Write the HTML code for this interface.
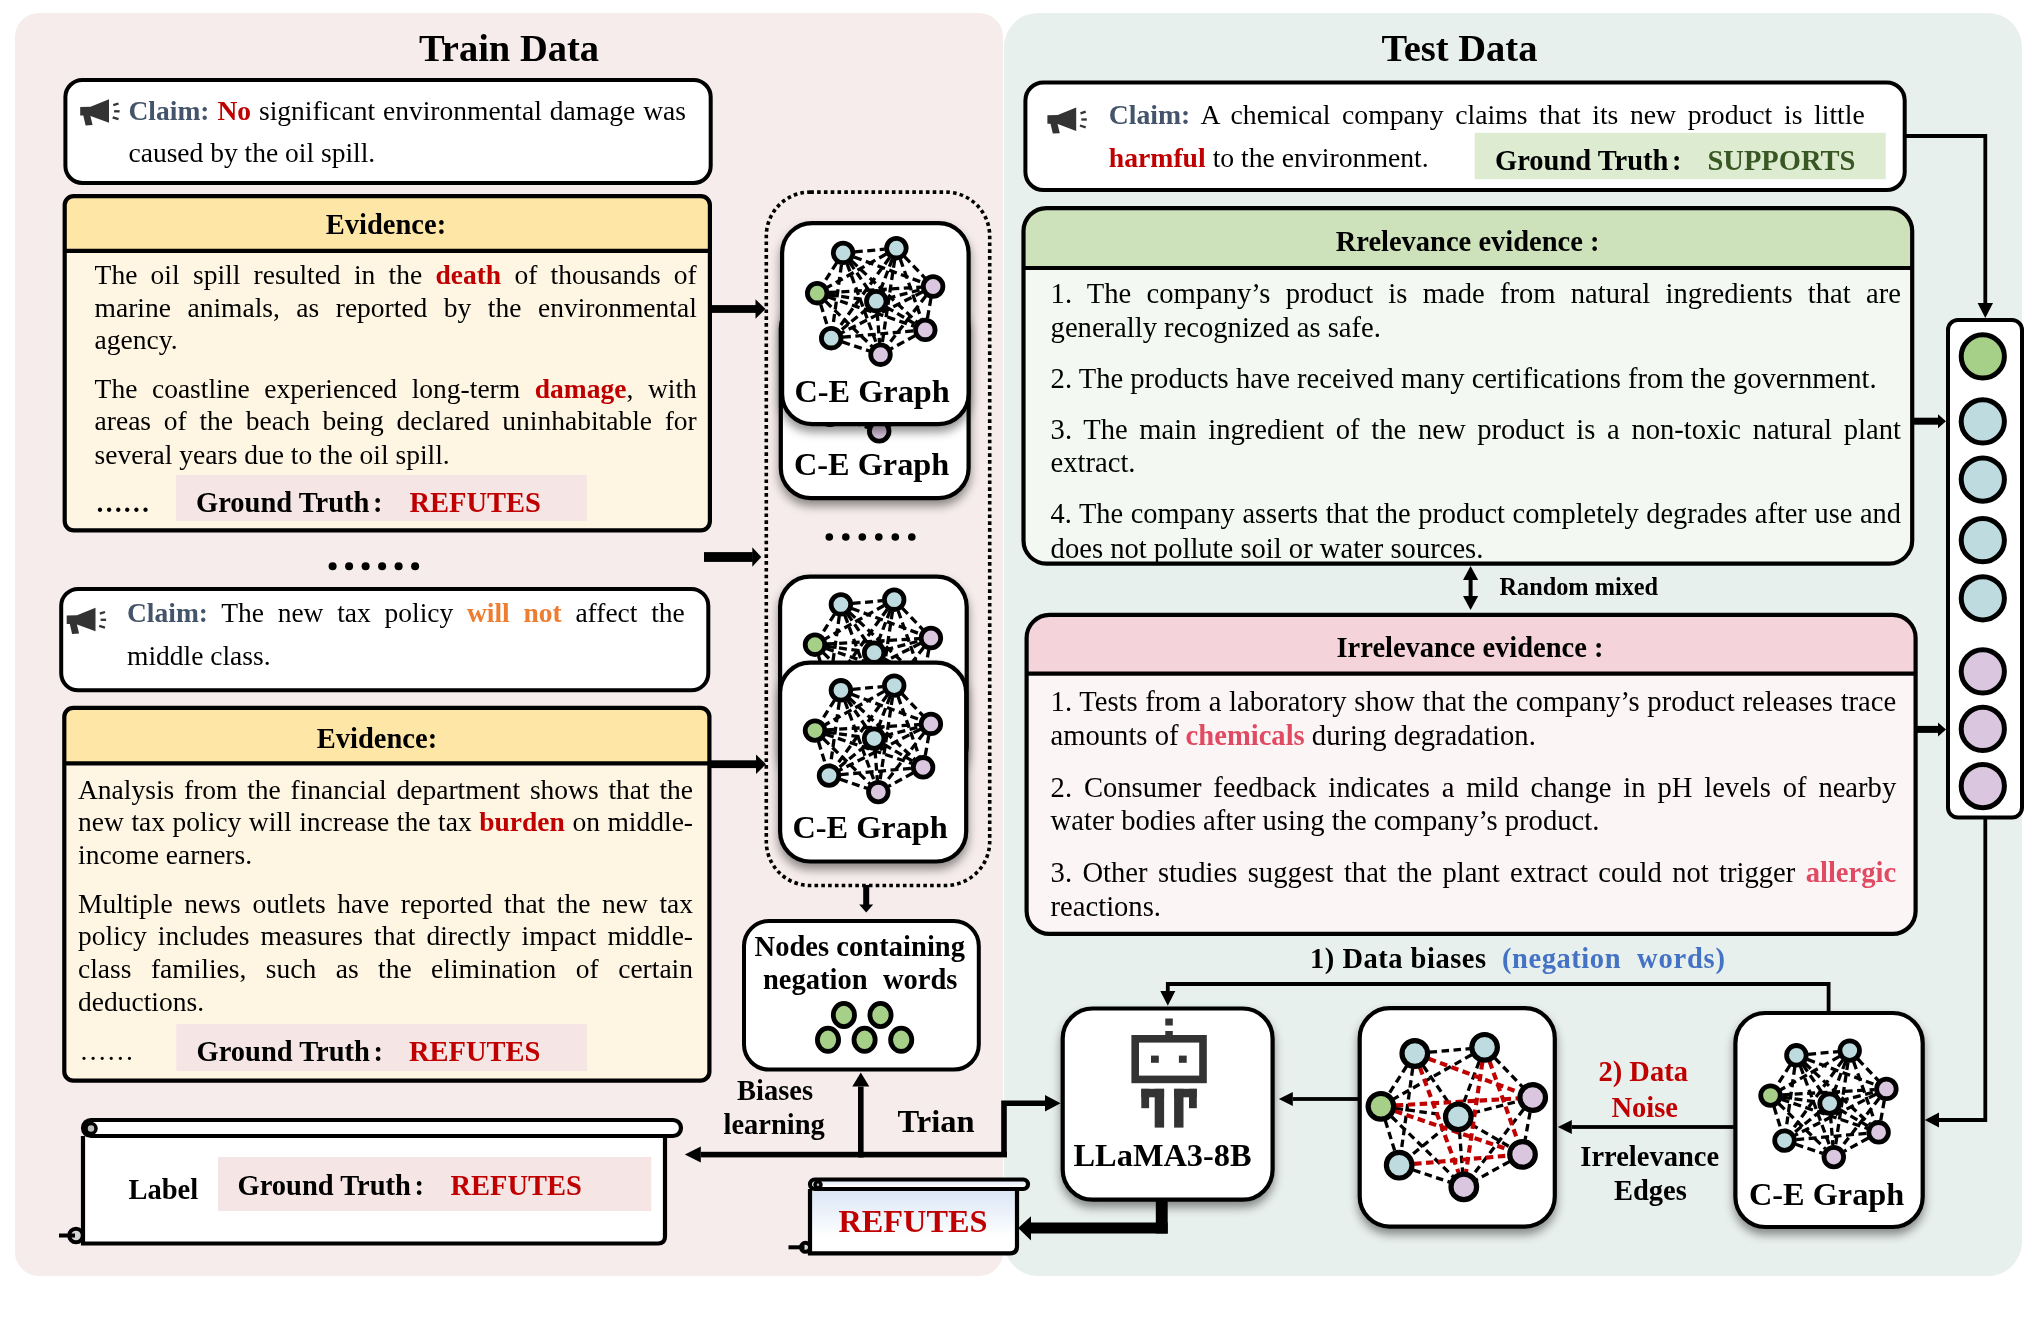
<!DOCTYPE html>
<html><head><meta charset="utf-8"><title>Train/Test Data</title>
<style>
html,body{margin:0;padding:0;background:#fff;}
#root{position:relative;width:2040px;height:1320px;overflow:hidden;background:#fff;font-family:"Liberation Serif",serif;color:#000;}
#root svg{position:absolute;left:0;top:0;will-change:transform;}
#root svg text{font-family:"Liberation Serif",serif;}
.ln{position:absolute;white-space:nowrap;}
#txt{position:absolute;left:0;top:0;width:2040px;height:1320px;will-change:transform;}
.ln.j{text-align:justify;text-align-last:justify;}
</style></head><body><div id="root">
<div style="position:absolute;left:15px;top:13px;width:988px;height:1263px;border-radius:24px;background:#f5eceb"></div><div style="position:absolute;left:1004px;top:13px;width:1018px;height:1263px;border-radius:34px;background:#e8f0ee"></div>
<svg width="2040" height="1320" viewBox="0 0 2040 1320"><defs>
<filter id="sh" x="-20%" y="-20%" width="140%" height="140%">
<feDropShadow dx="0" dy="6" stdDeviation="5" flood-color="#000" flood-opacity="0.42"/>
</filter>
<linearGradient id="bg" x1="0" y1="0" x2="0" y2="1">
<stop offset="0" stop-color="#d9e5f5"/><stop offset="0.75" stop-color="#ffffff"/>
</linearGradient>
</defs>
<text x="509" y="61.4" font-size="38.5" font-weight="bold" fill="#000" text-anchor="middle">Train Data</text>
<text x="1459.5" y="60.7" font-size="38.5" font-weight="bold" fill="#000" text-anchor="middle">Test Data</text>
<rect x="65.40" y="80.00" width="645.30" height="103.00" rx="17" fill="#fff" stroke="#000" stroke-width="4"/>
<g transform="translate(75,92)" fill="#333333"><path d="M5.2,15 L15.5,14.7 L34,7.2 L34,30.8 L15.5,23.9 L15.3,23.6 L17.6,33.1 L10.6,33.4 L8.3,23.6 L5.2,23.6 Z"/><g stroke="#333333" stroke-width="2.3" stroke-linecap="butt" fill="none"><line x1="38.3" y1="13.2" x2="43.5" y2="11.5"/><line x1="39.1" y1="19.3" x2="44.6" y2="19.3"/><line x1="37.7" y1="25.3" x2="43.5" y2="27.1"/></g></g>
<rect x="64.70" y="196.10" width="645.20" height="334.20" rx="9" fill="#fef5e2"/>
<path d="M64.70,250.80 L64.70,205.10 Q64.70,196.10 73.70,196.10 L700.90,196.10 Q709.90,196.10 709.90,205.10 L709.90,250.80 Z" fill="#fde6a6"/>
<line x1="64.70" y1="250.80" x2="709.90" y2="250.80" stroke="#000" stroke-width="4.2"/>
<rect x="64.70" y="196.10" width="645.20" height="334.20" rx="9" fill="none" stroke="#000" stroke-width="4.2"/>
<text x="386" y="233.7" font-size="28.5" font-weight="bold" fill="#000" text-anchor="middle">Evidence:</text>
<rect x="175.9" y="475" width="411" height="46" fill="#f5e6e5"/>
<text x="95.5" y="511.8" font-size="27.2" font-weight="bold" fill="#000">……</text>
<text x="196" y="511.8" font-size="28.5" font-weight="bold" fill="#000">Ground Truth</text>
<text x="372.9" y="511.8" font-size="28.5" font-weight="bold" fill="#000">:</text>
<text x="409.5" y="511.8" font-size="28.5" font-weight="bold" fill="#c00000">REFUTES</text>
<circle cx="332.6" cy="566.2" r="4"/>
<circle cx="349.1" cy="566.2" r="4"/>
<circle cx="365.6" cy="566.2" r="4"/>
<circle cx="382.1" cy="566.2" r="4"/>
<circle cx="398.6" cy="566.2" r="4"/>
<circle cx="415.1" cy="566.2" r="4"/>
<rect x="61.20" y="588.90" width="647.10" height="101.40" rx="17" fill="#fff" stroke="#000" stroke-width="4"/>
<g transform="translate(61.5,600.5)" fill="#333333"><path d="M5.2,15 L15.5,14.7 L34,7.2 L34,30.8 L15.5,23.9 L15.3,23.6 L17.6,33.1 L10.6,33.4 L8.3,23.6 L5.2,23.6 Z"/><g stroke="#333333" stroke-width="2.3" stroke-linecap="butt" fill="none"><line x1="38.3" y1="13.2" x2="43.5" y2="11.5"/><line x1="39.1" y1="19.3" x2="44.6" y2="19.3"/><line x1="37.7" y1="25.3" x2="43.5" y2="27.1"/></g></g>
<rect x="64.30" y="707.80" width="645.10" height="372.90" rx="9" fill="#fef5e2"/>
<path d="M64.30,763.30 L64.30,716.80 Q64.30,707.80 73.30,707.80 L700.40,707.80 Q709.40,707.80 709.40,716.80 L709.40,763.30 Z" fill="#fde6a6"/>
<line x1="64.30" y1="763.30" x2="709.40" y2="763.30" stroke="#000" stroke-width="4.2"/>
<rect x="64.30" y="707.80" width="645.10" height="372.90" rx="9" fill="none" stroke="#000" stroke-width="4.2"/>
<text x="377" y="747.6" font-size="28.5" font-weight="bold" fill="#000" text-anchor="middle">Evidence:</text>
<rect x="176.3" y="1024" width="410.7" height="47" fill="#f5e6e5"/>
<text x="79.5" y="1060" font-size="27.2" fill="#000">……</text>
<text x="196.5" y="1061.3" font-size="28.5" font-weight="bold" fill="#000">Ground Truth</text>
<text x="373.4" y="1061.3" font-size="28.5" font-weight="bold" fill="#000">:</text>
<text x="409" y="1061.3" font-size="28.5" font-weight="bold" fill="#c00000">REFUTES</text>
<rect x="766.3" y="192.1" width="223.4" height="693.4" rx="44" fill="none" stroke="#000" stroke-width="3.6" stroke-dasharray="3.6 3.2"/>
<rect x="780.80" y="298.60" width="187.80" height="199.50" rx="30" fill="#fff" stroke="#000" stroke-width="4.2" filter="url(#sh)"/>
<g stroke="#000" stroke-width="3.3" stroke-dasharray="8 4.5" fill="none"><line x1="853.5" y1="328.5" x2="883.4" y2="325.8"/><line x1="835.5" y1="339.3" x2="822.2" y2="360.0"/><line x1="848.4" y1="339.1" x2="868.4" y2="368.2"/><line x1="852.8" y1="333.6" x2="920.8" y2="359.0"/><line x1="840.2" y1="341.1" x2="831.5" y2="403.2"/><line x1="850.3" y1="337.5" x2="915.5" y2="398.5"/><line x1="845.8" y1="340.5" x2="875.2" y2="420.3"/><line x1="884.9" y1="330.6" x2="826.1" y2="364.0"/><line x1="891.0" y1="335.7" x2="879.1" y2="366.9"/><line x1="903.2" y1="333.2" x2="923.7" y2="354.7"/><line x1="888.2" y1="334.3" x2="836.8" y2="405.3"/><line x1="899.0" y1="335.8" x2="920.1" y2="395.5"/><line x1="893.4" y1="336.4" x2="880.9" y2="419.7"/><line x1="827.5" y1="371.4" x2="863.4" y2="376.2"/><line x1="827.6" y1="369.1" x2="920.1" y2="363.8"/><line x1="819.4" y1="381.0" x2="826.4" y2="403.6"/><line x1="827.0" y1="373.6" x2="912.9" y2="402.7"/><line x1="824.3" y1="378.0" x2="870.8" y2="423.1"/><line x1="886.3" y1="374.9" x2="920.5" y2="366.0"/><line x1="866.0" y1="385.2" x2="838.9" y2="407.4"/><line x1="885.1" y1="383.7" x2="913.9" y2="400.6"/><line x1="875.9" y1="389.5" x2="878.3" y2="419.6"/><line x1="921.4" y1="368.4" x2="840.3" y2="409.5"/><line x1="929.7" y1="374.6" x2="926.1" y2="395.0"/><line x1="924.7" y1="372.4" x2="886.3" y2="422.0"/><line x1="841.6" y1="413.8" x2="912.3" y2="407.5"/><line x1="841.0" y1="418.5" x2="868.1" y2="427.6"/><line x1="913.8" y1="412.2" x2="889.4" y2="425.6"/></g><circle cx="841.8" cy="329.5" r="9.8" fill="#bedbdf" stroke="#000" stroke-width="4.8"/><circle cx="895.1" cy="324.8" r="9.8" fill="#bedbdf" stroke="#000" stroke-width="4.8"/><circle cx="815.9" cy="369.8" r="9.8" fill="#a6cf88" stroke="#000" stroke-width="4.8"/><circle cx="875.0" cy="377.8" r="9.8" fill="#bedbdf" stroke="#000" stroke-width="4.8"/><circle cx="931.8" cy="363.1" r="9.8" fill="#dac6df" stroke="#000" stroke-width="4.8"/><circle cx="829.9" cy="414.8" r="9.8" fill="#bedbdf" stroke="#000" stroke-width="4.8"/><circle cx="924.0" cy="406.5" r="9.8" fill="#dac6df" stroke="#000" stroke-width="4.8"/><circle cx="879.2" cy="431.3" r="9.8" fill="#dac6df" stroke="#000" stroke-width="4.8"/>
<text x="794" y="475.3" font-size="32.3" font-weight="bold" fill="#000">C-E Graph</text>
<rect x="782.10" y="223.10" width="186.50" height="201.00" rx="30" fill="#fff" stroke="#000" stroke-width="4.2" filter="url(#sh)"/>
<g stroke="#000" stroke-width="3.3" stroke-dasharray="8 4.5" fill="none"><line x1="854.8" y1="251.9" x2="884.7" y2="249.2"/><line x1="836.8" y1="262.7" x2="823.5" y2="283.4"/><line x1="849.7" y1="262.5" x2="869.7" y2="291.6"/><line x1="854.1" y1="257.0" x2="922.1" y2="282.4"/><line x1="841.5" y1="264.5" x2="832.8" y2="326.6"/><line x1="851.6" y1="260.9" x2="916.8" y2="321.9"/><line x1="847.1" y1="263.9" x2="876.5" y2="343.7"/><line x1="886.2" y1="254.0" x2="827.4" y2="287.4"/><line x1="892.3" y1="259.1" x2="880.4" y2="290.3"/><line x1="904.5" y1="256.6" x2="925.0" y2="278.1"/><line x1="889.5" y1="257.7" x2="838.1" y2="328.7"/><line x1="900.3" y1="259.2" x2="921.4" y2="318.9"/><line x1="894.7" y1="259.8" x2="882.2" y2="343.1"/><line x1="828.8" y1="294.8" x2="864.7" y2="299.6"/><line x1="828.9" y1="292.5" x2="921.4" y2="287.2"/><line x1="820.7" y1="304.4" x2="827.7" y2="327.0"/><line x1="828.3" y1="297.0" x2="914.2" y2="326.1"/><line x1="825.6" y1="301.4" x2="872.1" y2="346.5"/><line x1="887.6" y1="298.3" x2="921.8" y2="289.4"/><line x1="867.3" y1="308.6" x2="840.2" y2="330.8"/><line x1="886.4" y1="307.1" x2="915.2" y2="324.0"/><line x1="877.2" y1="312.9" x2="879.6" y2="343.0"/><line x1="922.7" y1="291.8" x2="841.6" y2="332.9"/><line x1="931.0" y1="298.0" x2="927.4" y2="318.4"/><line x1="926.0" y1="295.8" x2="887.6" y2="345.4"/><line x1="842.9" y1="337.2" x2="913.6" y2="330.9"/><line x1="842.3" y1="341.9" x2="869.4" y2="351.0"/><line x1="915.1" y1="335.6" x2="890.7" y2="349.0"/></g><circle cx="843.1" cy="252.9" r="9.8" fill="#bedbdf" stroke="#000" stroke-width="4.8"/><circle cx="896.4" cy="248.2" r="9.8" fill="#bedbdf" stroke="#000" stroke-width="4.8"/><circle cx="817.2" cy="293.2" r="9.8" fill="#a6cf88" stroke="#000" stroke-width="4.8"/><circle cx="876.3" cy="301.2" r="9.8" fill="#bedbdf" stroke="#000" stroke-width="4.8"/><circle cx="933.1" cy="286.5" r="9.8" fill="#dac6df" stroke="#000" stroke-width="4.8"/><circle cx="831.2" cy="338.2" r="9.8" fill="#bedbdf" stroke="#000" stroke-width="4.8"/><circle cx="925.3" cy="329.9" r="9.8" fill="#dac6df" stroke="#000" stroke-width="4.8"/><circle cx="880.5" cy="354.7" r="9.8" fill="#dac6df" stroke="#000" stroke-width="4.8"/>
<text x="794.5" y="401.6" font-size="32.3" font-weight="bold" fill="#000">C-E Graph</text>
<circle cx="829.3" cy="537" r="3.8"/>
<circle cx="845.8" cy="537" r="3.8"/>
<circle cx="862.3" cy="537" r="3.8"/>
<circle cx="878.8" cy="537" r="3.8"/>
<circle cx="895.3" cy="537" r="3.8"/>
<circle cx="911.8" cy="537" r="3.8"/>
<rect x="780.10" y="576.70" width="186.60" height="199.20" rx="30" fill="#fff" stroke="#000" stroke-width="4.2" filter="url(#sh)"/>
<g stroke="#000" stroke-width="3.3" stroke-dasharray="8 4.5" fill="none"><line x1="852.6" y1="603.4" x2="882.5" y2="600.7"/><line x1="834.6" y1="614.2" x2="821.3" y2="634.9"/><line x1="847.5" y1="614.0" x2="867.5" y2="643.1"/><line x1="851.9" y1="608.5" x2="919.9" y2="633.9"/><line x1="839.3" y1="616.0" x2="830.6" y2="678.1"/><line x1="849.4" y1="612.4" x2="914.6" y2="673.4"/><line x1="844.9" y1="615.4" x2="874.3" y2="695.2"/><line x1="884.0" y1="605.5" x2="825.2" y2="638.9"/><line x1="890.1" y1="610.6" x2="878.2" y2="641.8"/><line x1="902.3" y1="608.1" x2="922.8" y2="629.6"/><line x1="887.3" y1="609.2" x2="835.9" y2="680.2"/><line x1="898.1" y1="610.7" x2="919.2" y2="670.4"/><line x1="892.5" y1="611.3" x2="880.0" y2="694.6"/><line x1="826.6" y1="646.3" x2="862.5" y2="651.1"/><line x1="826.7" y1="644.0" x2="919.2" y2="638.7"/><line x1="818.5" y1="655.9" x2="825.5" y2="678.5"/><line x1="826.1" y1="648.5" x2="912.0" y2="677.6"/><line x1="823.4" y1="652.9" x2="869.9" y2="698.0"/><line x1="885.4" y1="649.8" x2="919.6" y2="640.9"/><line x1="865.1" y1="660.1" x2="838.0" y2="682.3"/><line x1="884.2" y1="658.6" x2="913.0" y2="675.5"/><line x1="875.0" y1="664.4" x2="877.4" y2="694.5"/><line x1="920.5" y1="643.3" x2="839.4" y2="684.4"/><line x1="928.8" y1="649.5" x2="925.2" y2="669.9"/><line x1="923.8" y1="647.3" x2="885.4" y2="696.9"/><line x1="840.7" y1="688.7" x2="911.4" y2="682.4"/><line x1="840.1" y1="693.4" x2="867.2" y2="702.5"/><line x1="912.9" y1="687.1" x2="888.5" y2="700.5"/></g><circle cx="840.9" cy="604.4" r="9.8" fill="#bedbdf" stroke="#000" stroke-width="4.8"/><circle cx="894.2" cy="599.7" r="9.8" fill="#bedbdf" stroke="#000" stroke-width="4.8"/><circle cx="815.0" cy="644.7" r="9.8" fill="#a6cf88" stroke="#000" stroke-width="4.8"/><circle cx="874.1" cy="652.7" r="9.8" fill="#bedbdf" stroke="#000" stroke-width="4.8"/><circle cx="930.9" cy="638.0" r="9.8" fill="#dac6df" stroke="#000" stroke-width="4.8"/><circle cx="829.0" cy="689.7" r="9.8" fill="#bedbdf" stroke="#000" stroke-width="4.8"/><circle cx="923.1" cy="681.4" r="9.8" fill="#dac6df" stroke="#000" stroke-width="4.8"/><circle cx="878.3" cy="706.2" r="9.8" fill="#dac6df" stroke="#000" stroke-width="4.8"/>
<rect x="780.10" y="662.70" width="186.10" height="198.80" rx="30" fill="#fff" stroke="#000" stroke-width="4.2" filter="url(#sh)"/>
<g stroke="#000" stroke-width="3.3" stroke-dasharray="8 4.5" fill="none"><line x1="852.6" y1="689.3" x2="882.5" y2="686.6"/><line x1="834.6" y1="700.1" x2="821.3" y2="720.8"/><line x1="847.5" y1="699.9" x2="867.5" y2="729.0"/><line x1="851.9" y1="694.4" x2="919.9" y2="719.8"/><line x1="839.3" y1="701.9" x2="830.6" y2="764.0"/><line x1="849.4" y1="698.3" x2="914.6" y2="759.3"/><line x1="844.9" y1="701.3" x2="874.3" y2="781.1"/><line x1="884.0" y1="691.4" x2="825.2" y2="724.8"/><line x1="890.1" y1="696.5" x2="878.2" y2="727.7"/><line x1="902.3" y1="694.0" x2="922.8" y2="715.5"/><line x1="887.3" y1="695.1" x2="835.9" y2="766.1"/><line x1="898.1" y1="696.6" x2="919.2" y2="756.3"/><line x1="892.5" y1="697.2" x2="880.0" y2="780.5"/><line x1="826.6" y1="732.2" x2="862.5" y2="737.0"/><line x1="826.7" y1="729.9" x2="919.2" y2="724.6"/><line x1="818.5" y1="741.8" x2="825.5" y2="764.4"/><line x1="826.1" y1="734.4" x2="912.0" y2="763.5"/><line x1="823.4" y1="738.8" x2="869.9" y2="783.9"/><line x1="885.4" y1="735.7" x2="919.6" y2="726.8"/><line x1="865.1" y1="746.0" x2="838.0" y2="768.2"/><line x1="884.2" y1="744.5" x2="913.0" y2="761.4"/><line x1="875.0" y1="750.3" x2="877.4" y2="780.4"/><line x1="920.5" y1="729.2" x2="839.4" y2="770.3"/><line x1="928.8" y1="735.4" x2="925.2" y2="755.8"/><line x1="923.8" y1="733.2" x2="885.4" y2="782.8"/><line x1="840.7" y1="774.6" x2="911.4" y2="768.3"/><line x1="840.1" y1="779.3" x2="867.2" y2="788.4"/><line x1="912.9" y1="773.0" x2="888.5" y2="786.4"/></g><circle cx="840.9" cy="690.3" r="9.8" fill="#bedbdf" stroke="#000" stroke-width="4.8"/><circle cx="894.2" cy="685.6" r="9.8" fill="#bedbdf" stroke="#000" stroke-width="4.8"/><circle cx="815.0" cy="730.6" r="9.8" fill="#a6cf88" stroke="#000" stroke-width="4.8"/><circle cx="874.1" cy="738.6" r="9.8" fill="#bedbdf" stroke="#000" stroke-width="4.8"/><circle cx="930.9" cy="723.9" r="9.8" fill="#dac6df" stroke="#000" stroke-width="4.8"/><circle cx="829.0" cy="775.6" r="9.8" fill="#bedbdf" stroke="#000" stroke-width="4.8"/><circle cx="923.1" cy="767.3" r="9.8" fill="#dac6df" stroke="#000" stroke-width="4.8"/><circle cx="878.3" cy="792.1" r="9.8" fill="#dac6df" stroke="#000" stroke-width="4.8"/>
<text x="792.5" y="837.9" font-size="32.3" font-weight="bold" fill="#000">C-E Graph</text>
<rect x="709.00" y="305.10" width="47.00" height="7.8" fill="#000"/>
<polygon points="755.50,299.20 765.50,309.00 755.50,318.80" fill="#000"/>
<rect x="704.00" y="552.10" width="48.80" height="9.8" fill="#000"/>
<polygon points="752.30,547.30 761.30,557.00 752.30,566.70" fill="#000"/>
<rect x="709.00" y="760.30" width="47.50" height="7.8" fill="#000"/>
<polygon points="756.00,754.40 766.00,764.20 756.00,774.00" fill="#000"/>
<rect x="863.20" y="885.00" width="6" height="20.00" fill="#000"/>
<polygon points="859.20,904.50 866.20,912.50 873.20,904.50" fill="#000"/>
<rect x="744.00" y="921.00" width="234.80" height="148.60" rx="25" fill="#fff" stroke="#000" stroke-width="4"/>
<text x="754.5" y="955.5" font-size="28.5" font-weight="bold" fill="#000" textLength="210.5" lengthAdjust="spacing">Nodes containing</text>
<text x="763" y="988.9" font-size="28.5" font-weight="bold" fill="#000">negation</text>
<text x="883" y="988.9" font-size="28.5" font-weight="bold" fill="#000">words</text>
<ellipse cx="843.9" cy="1015" rx="10.6" ry="11.6" fill="#a6cf88" stroke="#000" stroke-width="4.8"/>
<ellipse cx="880.5" cy="1015" rx="10.6" ry="11.6" fill="#a6cf88" stroke="#000" stroke-width="4.8"/>
<ellipse cx="828" cy="1039.8" rx="10.6" ry="11.6" fill="#a6cf88" stroke="#000" stroke-width="4.8"/>
<ellipse cx="864.6" cy="1039.8" rx="10.6" ry="11.6" fill="#a6cf88" stroke="#000" stroke-width="4.8"/>
<ellipse cx="901.2" cy="1039.8" rx="10.6" ry="11.6" fill="#a6cf88" stroke="#000" stroke-width="4.8"/>
<rect x="858.00" y="1086.60" width="5.6" height="70.90" fill="#000"/>
<polygon points="852.30,1086.60 860.80,1072.60 869.30,1086.60" fill="#000"/>
<text x="737" y="1100.3" font-size="28.5" font-weight="bold" fill="#000">Biases</text>
<text x="723.5" y="1133.7" font-size="28.5" font-weight="bold" fill="#000">learning</text>
<text x="897.5" y="1132" font-size="32.5" font-weight="bold" fill="#000">Trian</text>
<rect x="700.80" y="1151.80" width="306.20" height="5.6" fill="#000"/>
<polygon points="700.80,1146.60 684.80,1154.60 700.80,1162.60" fill="#000"/>
<polyline points="1004.00,1157.00 1004.00,1103.30 1046.00,1103.30" fill="none" stroke="#000" stroke-width="5.6" stroke-linejoin="miter"/>
<polygon points="1045.00,1095.00 1060.60,1103.30 1045.00,1111.60" fill="#000"/>
<path d="M83,1136 L83,1243.5 L658,1243.5 Q665,1243.5 665,1236.5 L665,1136" fill="#fff" stroke="#000" stroke-width="4.2"/>
<rect x="83" y="1120" width="598" height="16" rx="8.0" fill="#fff" stroke="#000" stroke-width="4.2"/>
<circle cx="91" cy="1128.5" r="5" fill="#bbb" stroke="#000" stroke-width="3.5"/>
<circle cx="76" cy="1235.5" r="6.8" fill="#d5d5d5" stroke="#000" stroke-width="4"/>
<line x1="59" y1="1235.5" x2="75" y2="1235.5" stroke="#000" stroke-width="4"/>
<rect x="218" y="1157" width="433.3" height="54" fill="#f5e6e5"/>
<text x="128.5" y="1199.3" font-size="28.5" font-weight="bold" fill="#000">Label</text>
<text x="237.5" y="1195.2" font-size="28.5" font-weight="bold" fill="#000">Ground Truth</text>
<text x="414.4" y="1195.2" font-size="28.5" font-weight="bold" fill="#000">:</text>
<text x="450.5" y="1195.2" font-size="28.5" font-weight="bold" fill="#c00000">REFUTES</text>
<path d="M810,1189 L810,1253.3 L1010,1253.3 Q1017,1253.3 1017,1246.3 L1017,1189" fill="url(#bg)" stroke="#000" stroke-width="4.2"/>
<rect x="810" y="1179.5" width="218" height="9.5" rx="4.75" fill="url(#bg)" stroke="#000" stroke-width="4.2"/>
<circle cx="818" cy="1184.75" r="3" fill="#bbb" stroke="#000" stroke-width="3.5"/>
<circle cx="805.5" cy="1247.3" r="4.5" fill="#d5d5d5" stroke="#000" stroke-width="4"/>
<line x1="788.5" y1="1247.3" x2="804.5" y2="1247.3" stroke="#000" stroke-width="4"/>
<text x="838.5" y="1231.7" font-size="32.3" font-weight="bold" fill="#c00000">REFUTES</text>
<rect x="1025.40" y="82.50" width="879.30" height="107.50" rx="18" fill="#fff" stroke="#000" stroke-width="4"/>
<g transform="translate(1042.2,100.2)" fill="#333333"><path d="M5.2,15 L15.5,14.7 L34,7.2 L34,30.8 L15.5,23.9 L15.3,23.6 L17.6,33.1 L10.6,33.4 L8.3,23.6 L5.2,23.6 Z"/><g stroke="#333333" stroke-width="2.3" stroke-linecap="butt" fill="none"><line x1="38.3" y1="13.2" x2="43.5" y2="11.5"/><line x1="39.1" y1="19.3" x2="44.6" y2="19.3"/><line x1="37.7" y1="25.3" x2="43.5" y2="27.1"/></g></g>
<rect x="1474.7" y="132.8" width="411" height="46.4" fill="#ddebd1"/>
<text x="1495" y="170.4" font-size="28.5" font-weight="bold" fill="#000">Ground Truth</text>
<text x="1671.9" y="170.4" font-size="28.5" font-weight="bold" fill="#000">:</text>
<text x="1707.5" y="170.4" font-size="28.5" font-weight="bold" fill="#385723">SUPPORTS</text>
<rect x="1023.50" y="208.10" width="888.70" height="355.50" rx="23" fill="#f4f8f2"/>
<path d="M1023.50,268.00 L1023.50,231.10 Q1023.50,208.10 1046.50,208.10 L1889.20,208.10 Q1912.20,208.10 1912.20,231.10 L1912.20,268.00 Z" fill="#cde1bb"/>
<line x1="1023.50" y1="268.00" x2="1912.20" y2="268.00" stroke="#000" stroke-width="4.2"/>
<rect x="1023.50" y="208.10" width="888.70" height="355.50" rx="23" fill="none" stroke="#000" stroke-width="4.2"/>
<text x="1467.6" y="250.7" font-size="28.5" font-weight="bold" fill="#000" text-anchor="middle">Rrelevance evidence :</text>
<rect x="1468.6" y="578" width="4" height="22" fill="#000"/>
<polygon points="1463.00,580.00 1470.60,566.00 1478.20,580.00" fill="#000"/>
<polygon points="1463.00,596.00 1470.60,610.00 1478.20,596.00" fill="#000"/>
<text x="1499.5" y="595.2" font-size="24.3" font-weight="bold" fill="#000">Random mixed</text>
<rect x="1026.60" y="614.90" width="889.00" height="319.00" rx="23" fill="#fcf5f5"/>
<path d="M1026.60,673.60 L1026.60,637.90 Q1026.60,614.90 1049.60,614.90 L1892.60,614.90 Q1915.60,614.90 1915.60,637.90 L1915.60,673.60 Z" fill="#f4d4da"/>
<line x1="1026.60" y1="673.60" x2="1915.60" y2="673.60" stroke="#000" stroke-width="4.2"/>
<rect x="1026.60" y="614.90" width="889.00" height="319.00" rx="23" fill="none" stroke="#000" stroke-width="4.2"/>
<text x="1470" y="657" font-size="28.5" font-weight="bold" fill="#000" text-anchor="middle">Irrelevance evidence :</text>
<rect x="1948.00" y="320.00" width="74.00" height="497.60" rx="10" fill="#fff" stroke="#000" stroke-width="4"/>
<circle cx="1982.8" cy="356.4" r="21.6" fill="#a6cf88" stroke="#000" stroke-width="5"/>
<circle cx="1982.8" cy="421.4" r="21.6" fill="#bedbdf" stroke="#000" stroke-width="5"/>
<circle cx="1982.8" cy="479.6" r="21.6" fill="#bedbdf" stroke="#000" stroke-width="5"/>
<circle cx="1982.8" cy="540.2" r="21.6" fill="#bedbdf" stroke="#000" stroke-width="5"/>
<circle cx="1982.8" cy="598.3" r="21.6" fill="#bedbdf" stroke="#000" stroke-width="5"/>
<circle cx="1982.8" cy="671.4" r="21.6" fill="#dac6df" stroke="#000" stroke-width="5"/>
<circle cx="1982.8" cy="728.9" r="21.6" fill="#dac6df" stroke="#000" stroke-width="5"/>
<circle cx="1982.8" cy="786.1" r="21.6" fill="#dac6df" stroke="#000" stroke-width="5"/>
<polyline points="1906.00,136.00 1985.30,136.00 1985.30,303.00" fill="none" stroke="#000" stroke-width="3.8" stroke-linejoin="miter"/>
<polygon points="1977.60,303.00 1985.30,318.00 1993.00,303.00" fill="#000"/>
<rect x="1912.00" y="417.70" width="26.50" height="7" fill="#000"/>
<polygon points="1938.00,414.20 1946.00,421.20 1938.00,428.20" fill="#000"/>
<rect x="1915.00" y="725.90" width="23.50" height="7" fill="#000"/>
<polygon points="1938.00,722.40 1946.00,729.40 1938.00,736.40" fill="#000"/>
<polyline points="1985.30,819.00 1985.30,1120.00 1938.00,1120.00" fill="none" stroke="#000" stroke-width="3.8" stroke-linejoin="miter"/>
<polygon points="1939.00,1112.50 1924.80,1120.00 1939.00,1127.50" fill="#000"/>
<text x="1310" y="967.6" font-size="28.5" font-weight="bold" fill="#000" textLength="176" lengthAdjust="spacing">1) Data biases</text>
<text x="1502" y="967.6" font-size="28.5" font-weight="bold" fill="#4472c4" textLength="118.5" lengthAdjust="spacing">(negation</text>
<text x="1637" y="967.6" font-size="28.5" font-weight="bold" fill="#4472c4" textLength="88" lengthAdjust="spacing">words)</text>
<polyline points="1828.60,1012.00 1828.60,984.00 1167.80,984.00 1167.80,992.00" fill="none" stroke="#000" stroke-width="3.8" stroke-linejoin="miter"/>
<polygon points="1160.30,991.00 1167.80,1005.80 1175.30,991.00" fill="#000"/>
<rect x="1062.70" y="1008.50" width="209.90" height="191.20" rx="30" fill="#fff" stroke="#000" stroke-width="4.2" filter="url(#sh)"/>
<rect x="1165.3" y="1018.5" width="7.5" height="7" fill="#333333"/>
<rect x="1165.3" y="1031" width="7.5" height="5" fill="#333333"/>
<rect x="1151" y="1055.6" width="7.8" height="7.2" fill="#333333"/>
<rect x="1178.9" y="1055.6" width="7.8" height="7.2" fill="#333333"/>
<rect x="1141.3" y="1088.8" width="22.8" height="8.5" fill="#333333"/>
<rect x="1141.3" y="1088.8" width="7.8" height="19.4" fill="#333333"/>
<rect x="1154.7" y="1088.8" width="9.4" height="38.8" fill="#333333"/>
<rect x="1174.1" y="1088.8" width="22.7" height="8.5" fill="#333333"/>
<rect x="1189" y="1088.8" width="7.8" height="19.4" fill="#333333"/>
<rect x="1174.1" y="1088.8" width="9.4" height="38.8" fill="#333333"/>
<rect x="1135.2" y="1038.8" width="67.8" height="40.6" fill="none" stroke="#333333" stroke-width="7.6"/>
<text x="1073.5" y="1166.4" font-size="32.4" font-weight="bold" fill="#000">LLaMA3-8B</text>
<rect x="1155.8" y="1200" width="11.9" height="33.5" fill="#000"/>
<rect x="1030" y="1222.5" width="137.7" height="11" fill="#000"/>
<polygon points="1031.00,1216.30 1018.10,1228.00 1031.00,1240.60" fill="#000"/>
<rect x="1359.70" y="1008.20" width="195.10" height="218.40" rx="30" fill="#fff" stroke="#000" stroke-width="4.2" filter="url(#sh)"/>
<g stroke="#000" stroke-width="3.3" stroke-dasharray="7.5 4.5" fill="none"><line x1="1429.6" y1="1052.2" x2="1469.8" y2="1048.7"/><line x1="1406.7" y1="1066.0" x2="1388.9" y2="1093.8"/><line x1="1412.7" y1="1068.3" x2="1401.3" y2="1150.5"/><line x1="1471.7" y1="1054.7" x2="1393.8" y2="1098.9"/><line x1="1494.9" y1="1058.1" x2="1522.4" y2="1086.8"/><line x1="1479.3" y1="1061.3" x2="1463.6" y2="1102.8"/><line x1="1385.3" y1="1120.5" x2="1394.8" y2="1151.0"/><line x1="1395.6" y1="1108.3" x2="1443.5" y2="1114.8"/><line x1="1391.6" y1="1116.7" x2="1453.1" y2="1176.5"/><line x1="1413.3" y1="1170.0" x2="1449.7" y2="1182.1"/><line x1="1446.8" y1="1126.2" x2="1410.7" y2="1155.8"/><line x1="1509.4" y1="1161.6" x2="1476.8" y2="1179.6"/><line x1="1530.1" y1="1112.2" x2="1525.1" y2="1139.7"/><line x1="1523.6" y1="1109.3" x2="1472.9" y2="1175.1"/><line x1="1472.7" y1="1113.0" x2="1518.3" y2="1101.2"/><line x1="1459.5" y1="1131.6" x2="1462.6" y2="1172.0"/><line x1="1423.2" y1="1065.8" x2="1449.9" y2="1104.5"/><line x1="1471.1" y1="1124.3" x2="1509.6" y2="1146.8"/></g><g stroke="#c00000" stroke-width="4.125" stroke-dasharray="7.5 4.5" fill="none"><line x1="1419.9" y1="1067.5" x2="1458.7" y2="1172.9"/><line x1="1395.7" y1="1105.4" x2="1517.8" y2="1098.4"/><line x1="1482.4" y1="1062.1" x2="1466.0" y2="1172.1"/><line x1="1428.8" y1="1058.7" x2="1518.7" y2="1092.3"/><line x1="1395.0" y1="1111.1" x2="1508.4" y2="1149.6"/><line x1="1414.1" y1="1163.9" x2="1507.6" y2="1155.7"/><line x1="1489.6" y1="1061.4" x2="1517.5" y2="1140.3"/></g><circle cx="1414.8" cy="1053.5" r="12.8" fill="#bedbdf" stroke="#000" stroke-width="5.2"/><circle cx="1484.6" cy="1047.3" r="12.8" fill="#bedbdf" stroke="#000" stroke-width="5.2"/><circle cx="1380.9" cy="1106.3" r="12.8" fill="#a6cf88" stroke="#000" stroke-width="5.2"/><circle cx="1458.3" cy="1116.8" r="12.8" fill="#bedbdf" stroke="#000" stroke-width="5.2"/><circle cx="1532.7" cy="1097.5" r="12.8" fill="#dac6df" stroke="#000" stroke-width="5.2"/><circle cx="1399.2" cy="1165.2" r="12.8" fill="#bedbdf" stroke="#000" stroke-width="5.2"/><circle cx="1522.5" cy="1154.4" r="12.8" fill="#dac6df" stroke="#000" stroke-width="5.2"/><circle cx="1463.8" cy="1186.9" r="12.8" fill="#dac6df" stroke="#000" stroke-width="5.2"/>
<rect x="1292.80" y="1097.10" width="65.30" height="3.8" fill="#000"/>
<polygon points="1292.80,1092.00 1278.80,1099.00 1292.80,1106.00" fill="#000"/>
<rect x="1735.40" y="1013.00" width="187.30" height="214.00" rx="30" fill="#fff" stroke="#000" stroke-width="4.2" filter="url(#sh)"/>
<g stroke="#000" stroke-width="3.3" stroke-dasharray="8 4.5" fill="none"><line x1="1808.1" y1="1054.3" x2="1838.0" y2="1051.6"/><line x1="1790.1" y1="1065.1" x2="1776.8" y2="1085.8"/><line x1="1803.0" y1="1064.9" x2="1823.0" y2="1094.0"/><line x1="1807.4" y1="1059.4" x2="1875.4" y2="1084.8"/><line x1="1794.8" y1="1066.9" x2="1786.1" y2="1129.0"/><line x1="1804.9" y1="1063.3" x2="1870.1" y2="1124.3"/><line x1="1800.4" y1="1066.3" x2="1829.8" y2="1146.1"/><line x1="1839.5" y1="1056.4" x2="1780.7" y2="1089.8"/><line x1="1845.6" y1="1061.5" x2="1833.7" y2="1092.7"/><line x1="1857.8" y1="1059.0" x2="1878.3" y2="1080.5"/><line x1="1842.8" y1="1060.1" x2="1791.4" y2="1131.1"/><line x1="1853.6" y1="1061.6" x2="1874.7" y2="1121.3"/><line x1="1848.0" y1="1062.2" x2="1835.5" y2="1145.5"/><line x1="1782.1" y1="1097.2" x2="1818.0" y2="1102.0"/><line x1="1782.2" y1="1094.9" x2="1874.7" y2="1089.6"/><line x1="1774.0" y1="1106.8" x2="1781.0" y2="1129.4"/><line x1="1781.6" y1="1099.4" x2="1867.5" y2="1128.5"/><line x1="1778.9" y1="1103.8" x2="1825.4" y2="1148.9"/><line x1="1840.9" y1="1100.7" x2="1875.1" y2="1091.8"/><line x1="1820.6" y1="1111.0" x2="1793.5" y2="1133.2"/><line x1="1839.7" y1="1109.5" x2="1868.5" y2="1126.4"/><line x1="1830.5" y1="1115.3" x2="1832.9" y2="1145.4"/><line x1="1876.0" y1="1094.2" x2="1794.9" y2="1135.3"/><line x1="1884.3" y1="1100.4" x2="1880.7" y2="1120.8"/><line x1="1879.3" y1="1098.2" x2="1840.9" y2="1147.8"/><line x1="1796.2" y1="1139.6" x2="1866.9" y2="1133.3"/><line x1="1795.6" y1="1144.3" x2="1822.7" y2="1153.4"/><line x1="1868.4" y1="1138.0" x2="1844.0" y2="1151.4"/></g><circle cx="1796.4" cy="1055.3" r="9.8" fill="#bedbdf" stroke="#000" stroke-width="4.8"/><circle cx="1849.7" cy="1050.6" r="9.8" fill="#bedbdf" stroke="#000" stroke-width="4.8"/><circle cx="1770.5" cy="1095.6" r="9.8" fill="#a6cf88" stroke="#000" stroke-width="4.8"/><circle cx="1829.6" cy="1103.6" r="9.8" fill="#bedbdf" stroke="#000" stroke-width="4.8"/><circle cx="1886.4" cy="1088.9" r="9.8" fill="#dac6df" stroke="#000" stroke-width="4.8"/><circle cx="1784.5" cy="1140.6" r="9.8" fill="#bedbdf" stroke="#000" stroke-width="4.8"/><circle cx="1878.6" cy="1132.3" r="9.8" fill="#dac6df" stroke="#000" stroke-width="4.8"/><circle cx="1833.8" cy="1157.1" r="9.8" fill="#dac6df" stroke="#000" stroke-width="4.8"/>
<text x="1749" y="1204.8" font-size="32.3" font-weight="bold" fill="#000">C-E Graph</text>
<rect x="1571.80" y="1125.10" width="162.00" height="3.8" fill="#000"/>
<polygon points="1571.80,1120.00 1557.80,1127.00 1571.80,1134.00" fill="#000"/>
<text x="1598.5" y="1081.2" font-size="28.5" font-weight="bold" fill="#c00000">2) Data</text>
<text x="1611.5" y="1117.1" font-size="28.5" font-weight="bold" fill="#c00000">Noise</text>
<text x="1580.3" y="1166" font-size="28.5" font-weight="bold" fill="#000">Irrelevance</text>
<text x="1614" y="1200" font-size="28.5" font-weight="bold" fill="#000">Edges</text>
</svg>
<div id="txt"><div class="ln j" style="left:128.50px;top:97.27px;font-size:27.5px;line-height:27.5px;width:557.50px;"><b style="color:#44546a">Claim:</b> <b style="color:#c00000">No</b> significant environmental damage was</div>
<div class="ln" style="left:128.50px;top:138.67px;font-size:27.5px;line-height:27.5px;">caused by the oil spill.</div>
<div class="ln j" style="left:94.60px;top:260.77px;font-size:27.5px;line-height:27.5px;width:602.20px;">The oil spill resulted in the <b style="color:#c00000">death</b> of thousands of</div>
<div class="ln j" style="left:94.60px;top:293.67px;font-size:27.5px;line-height:27.5px;width:602.20px;">marine animals, as reported by the environmental</div>
<div class="ln" style="left:94.60px;top:326.27px;font-size:27.5px;line-height:27.5px;">agency.</div>
<div class="ln j" style="left:94.60px;top:374.97px;font-size:27.5px;line-height:27.5px;width:602.20px;">The coastline experienced long-term <b style="color:#c00000">damage</b>, with</div>
<div class="ln j" style="left:94.60px;top:407.47px;font-size:27.5px;line-height:27.5px;width:602.20px;">areas of the beach being declared uninhabitable for</div>
<div class="ln" style="left:94.60px;top:440.97px;font-size:27.5px;line-height:27.5px;">several years due to the oil spill.</div>
<div class="ln j" style="left:127.00px;top:599.47px;font-size:27.5px;line-height:27.5px;width:557.80px;"><b style="color:#44546a">Claim:</b> The new tax policy <b style="color:#ed7d31">will</b> <b style="color:#ed7d31">not</b> affect the</div>
<div class="ln" style="left:127.00px;top:641.57px;font-size:27.5px;line-height:27.5px;">middle class.</div>
<div class="ln j" style="left:78.00px;top:775.77px;font-size:27.5px;line-height:27.5px;width:615.00px;">Analysis from the financial department shows that the</div>
<div class="ln j" style="left:78.00px;top:808.27px;font-size:27.5px;line-height:27.5px;width:615.00px;">new tax policy will increase the tax <b style="color:#c00000">burden</b> on middle-</div>
<div class="ln" style="left:78.00px;top:840.77px;font-size:27.5px;line-height:27.5px;">income earners.</div>
<div class="ln j" style="left:78.00px;top:889.52px;font-size:27.5px;line-height:27.5px;width:615.00px;">Multiple news outlets have reported that the new tax</div>
<div class="ln j" style="left:78.00px;top:922.02px;font-size:27.5px;line-height:27.5px;width:615.00px;">policy includes measures that directly impact middle-</div>
<div class="ln j" style="left:78.00px;top:954.52px;font-size:27.5px;line-height:27.5px;width:615.00px;">class families, such as the elimination of certain</div>
<div class="ln" style="left:78.00px;top:987.77px;font-size:27.5px;line-height:27.5px;">deductions.</div>
<div class="ln j" style="left:1108.80px;top:100.70px;font-size:27.7px;line-height:27.7px;width:756.00px;"><b style="color:#44546a">Claim:</b> A chemical company claims that its new product is little</div>
<div class="ln" style="left:1108.80px;top:144.40px;font-size:27.7px;line-height:27.7px;"><b style="color:#c00000">harmful</b> to the environment.</div>
<div class="ln j" style="left:1050.60px;top:279.65px;font-size:28.6px;line-height:28.6px;width:850.30px;">1. The company’s product is made from natural ingredients that are</div>
<div class="ln" style="left:1050.60px;top:314.25px;font-size:28.6px;line-height:28.6px;">generally recognized as safe.</div>
<div class="ln" style="left:1050.60px;top:364.95px;font-size:28.6px;line-height:28.6px;">2. The products have received many certifications from the government.</div>
<div class="ln j" style="left:1050.60px;top:415.95px;font-size:28.6px;line-height:28.6px;width:850.30px;">3. The main ingredient of the new product is a non-toxic natural plant</div>
<div class="ln" style="left:1050.60px;top:449.45px;font-size:28.6px;line-height:28.6px;">extract.</div>
<div class="ln j" style="left:1050.60px;top:500.45px;font-size:28.6px;line-height:28.6px;width:850.30px;"><span style="font-size:28.4px">4. The company asserts that the product completely degrades after use and</span></div>
<div class="ln" style="left:1050.60px;top:534.55px;font-size:28.6px;line-height:28.6px;">does not pollute soil or water sources.</div>
<div class="ln j" style="left:1050.60px;top:688.25px;font-size:28.6px;line-height:28.6px;width:845.60px;">1. Tests from a laboratory show that the company’s product releases trace</div>
<div class="ln" style="left:1050.60px;top:722.15px;font-size:28.6px;line-height:28.6px;">amounts of <b style="color:#e04a62">chemicals</b> during degradation.</div>
<div class="ln j" style="left:1050.60px;top:773.75px;font-size:28.6px;line-height:28.6px;width:845.60px;">2. Consumer feedback indicates a mild change in pH levels of nearby</div>
<div class="ln" style="left:1050.60px;top:807.05px;font-size:28.6px;line-height:28.6px;">water bodies after using the company’s product.</div>
<div class="ln j" style="left:1050.60px;top:858.55px;font-size:28.6px;line-height:28.6px;width:845.60px;">3. Other studies suggest that the plant extract could not trigger <b style="color:#e04a62">allergic</b></div>
<div class="ln" style="left:1050.60px;top:892.55px;font-size:28.6px;line-height:28.6px;">reactions.</div></div>
</div></body></html>
